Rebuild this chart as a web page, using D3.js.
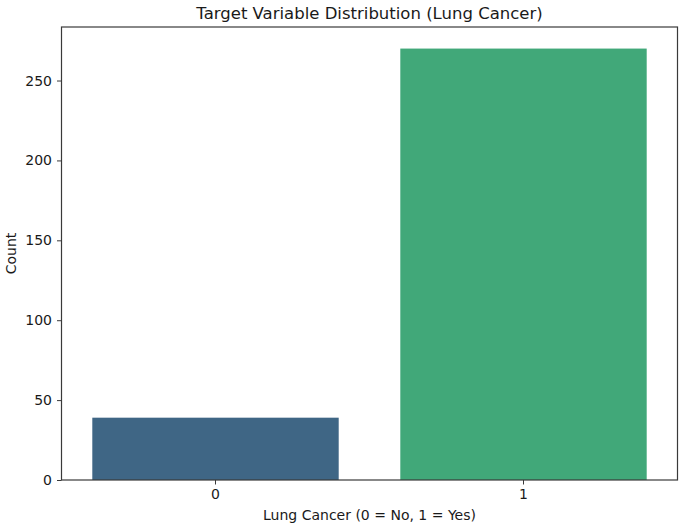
<!DOCTYPE html>
<html>
<head>
<meta charset="utf-8">
<script src="https://d3js.org/d3.v7.min.js"></script>
<style>
  body { margin: 0; background: #fff; }
  text { font-family: "DejaVu Sans", sans-serif; fill: #1a1a1a; }
</style>
</head>
<body>
<script>
// data
var categories = ["0", "1"];
var counts = [39, 270];
var barColors = ["#3f6685", "#41a879"];
var yTicks = [0, 50, 100, 150, 200, 250];

var W = 685, H = 530;
var margin = {top: 27, right: 7.5, bottom: 50, left: 61.5};
var width = W - margin.left - margin.right,
    height = H - margin.top - margin.bottom;

var svg = d3.select("body").append("svg")
    .attr("width", W)
    .attr("height", H);

var g = svg.append("g")
    .attr("transform", "translate(" + margin.left + "," + margin.top + ")");

var x = d3.scaleBand()
    .domain(categories)
    .range([0, width])
    .paddingInner(0.2)
    .paddingOuter(0.1);

var y = d3.scaleLinear()
    .domain([0, d3.max(counts) * 1.05])
    .range([height, 0]);

// bars
g.selectAll("rect.bar")
    .data(categories)
    .enter()
    .append("rect")
    .attr("class", "bar")
    .attr("x", function(d) { return x(d); })
    .attr("width", x.bandwidth())
    .attr("y", function(d, i) { return y(counts[i]); })
    .attr("height", function(d, i) { return height - y(counts[i]); })
    .attr("fill", function(d, i) { return barColors[i]; });

// frame
g.append("rect")
    .attr("width", width)
    .attr("height", height)
    .attr("fill", "none")
    .attr("stroke", "#3a3a3a")
    .attr("stroke-width", 1.2);

// y axis
var yAxis = g.append("g")
    .call(d3.axisLeft(y).tickValues(yTicks).tickSize(4.5).tickPadding(5));
yAxis.select(".domain").remove();
yAxis.selectAll("line").attr("stroke", "#3a3a3a");
yAxis.selectAll("text").style("font-size", "14px").attr("fill", "#1a1a1a");

// x axis
var xAxis = g.append("g")
    .attr("transform", "translate(0," + height + ")")
    .call(d3.axisBottom(x).tickSize(4.5).tickPadding(5));
xAxis.select(".domain").remove();
xAxis.selectAll("line").attr("stroke", "#3a3a3a");
xAxis.selectAll("text").style("font-size", "14px").attr("fill", "#1a1a1a");

// title and labels
svg.append("text")
    .attr("x", margin.left + width / 2)
    .attr("y", 19)
    .attr("text-anchor", "middle")
    .style("font-size", "16.5px")
    .text("Target Variable Distribution (Lung Cancer)");

svg.append("text")
    .attr("x", margin.left + width / 2)
    .attr("y", 520)
    .attr("text-anchor", "middle")
    .style("font-size", "14px")
    .text("Lung Cancer (0 = No, 1 = Yes)");

svg.append("text")
    .attr("transform", "translate(16," + (margin.top + height / 2) + ") rotate(-90)")
    .attr("text-anchor", "middle")
    .style("font-size", "14px")
    .text("Count");
</script>
</body>
</html>
